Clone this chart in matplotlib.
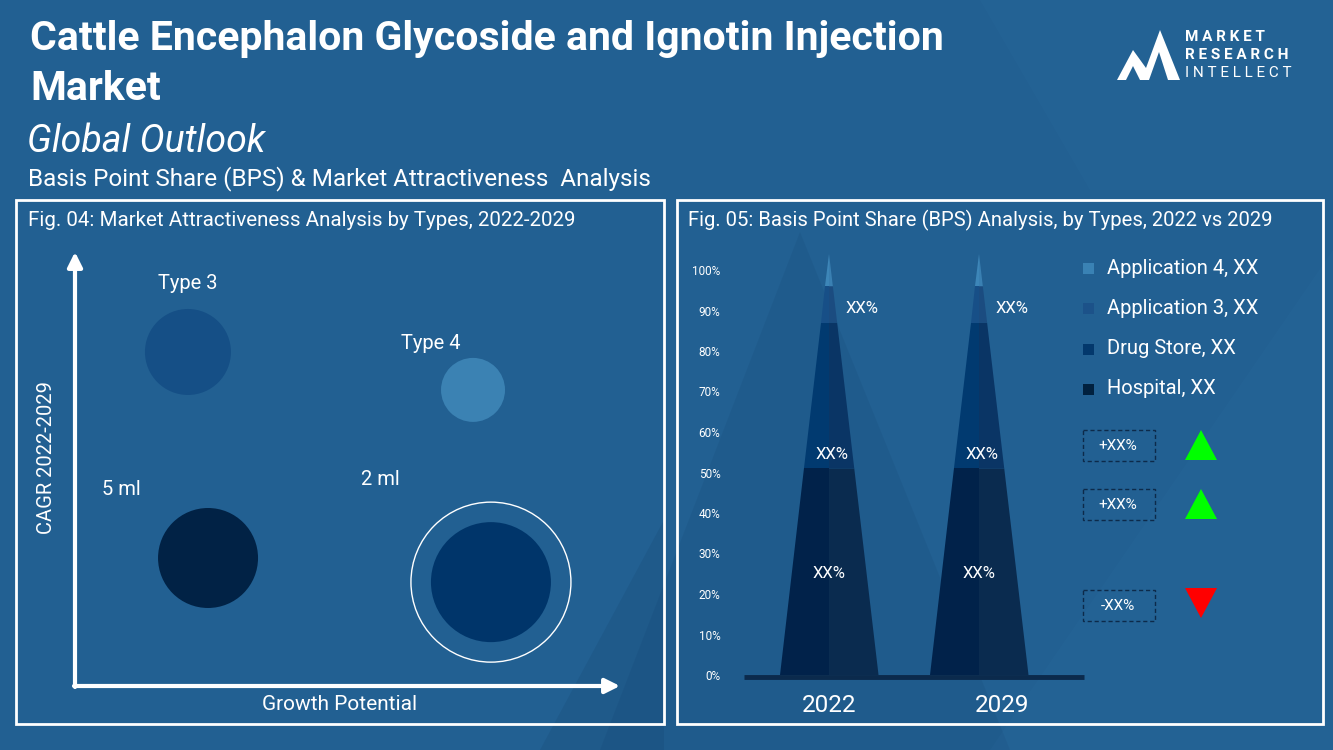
import matplotlib
matplotlib.use("Agg")
import matplotlib.pyplot as plt
from matplotlib.patches import Polygon, Rectangle
import numpy as np

plt.rcParams['font.family'] = ['Roboto', 'DejaVu Sans']

# ---- data ----
# Fig. 04 bubble chart (growth potential vs CAGR, 0-100 scale)
bubble_labels = ['Type 3', 'Type 4', '5 ml', '2 ml']
growth_potential = [20.8, 73.3, 24.5, 76.6]
cagr = [77.5, 68.7, 29.7, 24.1]
bubble_radius_px = [43, 32, 50, 60]
bubble_colors = ['#154f86', '#3b82b3', '#012245', '#00356a']
label_x = [20.8, 65.6, 8.5, 56.2]
label_y = [93.5, 79.4, 45.7, 47.8]

# Fig. 05 BPS pyramids
years = ['2022', '2029']
segments = ['Hospital', 'Drug Store', 'Application 3', 'Application 4']
hospital = [51, 51]
drug_store = [36, 36]
application_3 = [9, 9]
application_4 = [8, 8]
seg_labels = ['XX%', 'XX%', 'XX%', '']
yticks = list(range(0, 101, 10))
changes = ['+XX%', '+XX%', '-XX%']
change_up = [True, True, False]

BG = '#226092'
seg_left = ['#01224a', '#013a70', '#174f87', '#3d86b8']
seg_right = ['#0a2b4f', '#0a3565', '#1b4c80', '#3a80b2']
legend_colors = ['#3a82b4', '#1c5289', '#03386c', '#01213f']

W, H = 1333, 750
fig = plt.figure(figsize=(W / 100, H / 100), dpi=100, facecolor=BG)

# full-figure canvas in pixel coordinates for decoration
bg = fig.add_axes([0, 0, 1, 1], zorder=0)
bg.set_xlim(0, W)
bg.set_ylim(H, 0)
bg.axis('off')
bg.set_facecolor(BG)

# subtle background triangles
bg.add_patch(Polygon([(800, 232), (600, 750), (1010, 750)], closed=True,
                     facecolor='#0b2f55', alpha=0.09, lw=0))
bg.add_patch(Polygon([(1333, 250), (990, 750), (1333, 750)], closed=True,
                     facecolor='#3a7fb4', alpha=0.08, lw=0))
bg.add_patch(Polygon([(664, 520), (540, 750), (664, 750)], closed=True,
                     facecolor='#0b2f55', alpha=0.12, lw=0))
bg.add_patch(Polygon([(980, 0), (1333, 0), (1333, 190), (1090, 190)], closed=True,
                     facecolor='#3a7fb4', alpha=0.08, lw=0))

# headings
bg.text(30, 39, 'Cattle Encephalon Glycoside and Ignotin Injection', color='white',
        fontsize=29.5, fontweight='bold', va='center', ha='left')
bg.text(30, 89, 'Market', color='white', fontsize=29.5, fontweight='bold', va='center', ha='left')
bg.text(27, 142, 'Global Outlook', color='white', fontsize=27, style='italic',
        va='center', ha='left')
bg.text(28, 179, 'Basis Point Share (BPS) & Market Attractiveness  Analysis', color='white',
        fontsize=17.5, va='center', ha='left')

# logo
bg.add_patch(Polygon([(1117, 80), (1133, 50), (1146, 68), (1160, 30), (1180, 80),
                      (1168, 80), (1159, 52), (1149, 80), (1140, 80), (1133, 66), (1126, 80)],
                     closed=True, facecolor='white', lw=0))
bg.text(1185, 37, 'M A R K E T', color='white', fontsize=11, fontweight='bold', va='center')
bg.text(1185, 55, 'R E S E A R C H', color='white', fontsize=11, fontweight='bold', va='center')
bg.text(1185, 73, 'I N T E L L E C T', color='white', fontsize=11, va='center')

# panels
for x0, x1 in [(16, 664), (677, 1323)]:
    bg.add_patch(Rectangle((x0, 200), x1 - x0, 524, fill=False, ec='white', lw=2))
bg.text(28, 220, 'Fig. 04: Market Attractiveness Analysis by Types, 2022-2029',
        color='white', fontsize=14.8, va='center')
bg.text(688, 220, 'Fig. 05: Basis Point Share (BPS) Analysis, by Types, 2022 vs 2029',
        color='white', fontsize=14.6, va='center')

# bubble chart axis arrows
arrow = dict(arrowstyle='-|>', color='white', lw=3, mutation_scale=22, shrinkA=0, shrinkB=0)
bg.annotate('', xy=(75, 252), xytext=(75, 687), arrowprops=arrow)
bg.annotate('', xy=(620, 686), xytext=(74, 686), arrowprops=arrow)
bg.text(47, 457, 'CAGR 2022-2029', color='white', fontsize=14.5, rotation=90,
        va='center', ha='center')
bg.text(340, 705, 'Growth Potential', color='white', fontsize=15, va='center', ha='center')

# ---- Fig. 04 bubbles ----
ax1 = fig.add_axes([75 / W, 1 - 686 / H, 543 / W, 431 / H], zorder=2)
ax1.set_xlim(0, 100)
ax1.set_ylim(0, 100)
ax1.axis('off')
sizes = [(2 * r * 72 / 100) ** 2 for r in bubble_radius_px]
ax1.scatter(growth_potential, cagr, s=sizes, c=bubble_colors, linewidths=0)
ax1.scatter([growth_potential[3]], [cagr[3]], s=[(2 * 80 * 72 / 100) ** 2],
            facecolors='none', edgecolors='white', linewidths=1)
for lab, lx, ly in zip(bubble_labels, label_x, label_y):
    ax1.text(lx, ly, lab, color='white', fontsize=14.5, ha='center', va='center')

# ---- Fig. 05 pyramids ----
ax2 = fig.add_axes([744 / W, 1 - 675 / H, 340 / W, 405 / H], zorder=2)
ax2.set_xlim(-0.567, 1.7)
ax2.set_ylim(0, 100)
ax2.patch.set_alpha(0)
for s in ax2.spines.values():
    s.set_visible(False)
ax2.set_xticks([])
ax2.set_yticks(yticks)
ax2.set_yticklabels([f'{t}%' for t in yticks], color='white', fontsize=8.5)
ax2.tick_params(axis='y', length=0, pad=17)

stack = np.array([hospital, drug_store, application_3, application_4])
half_w = 0.33
for i, yr in enumerate(years):
    total = stack[:, i].sum()
    width = lambda h: half_w * (1 - h / total)
    bottom = 0
    for k in range(len(segments)):
        top = bottom + stack[k, i]
        c = i
        ax2.add_patch(Polygon([(c - width(bottom), bottom), (c, bottom), (c, top),
                               (c - width(top), top)], closed=True,
                              facecolor=seg_left[k], lw=0, clip_on=False))
        ax2.add_patch(Polygon([(c, bottom), (c + width(bottom), bottom),
                               (c + width(top), top), (c, top)], closed=True,
                              facecolor=seg_right[k], lw=0, clip_on=False))
        bottom = top
    ax2.text(i, 25.0, seg_labels[0], color='white', fontsize=12, ha='center', va='center')
    ax2.text(i + 0.02, 54.5, seg_labels[1], color='white', fontsize=12, ha='center', va='center')
    ax2.text(i + 0.22, 90.5, seg_labels[2], color='white', fontsize=12, ha='center', va='center')
ax2.plot([-0.567, 1.7], [-0.5, -0.5], color='#0b2a4c', lw=3.5, solid_capstyle='butt',
         clip_on=False)

bg.text(829, 705, years[0], color='white', fontsize=17.5, ha='center', va='center')
bg.text(1002, 705, years[1], color='white', fontsize=17.5, ha='center', va='center')

# legend
legend_names = ['Application 4, XX', 'Application 3, XX', 'Drug Store, XX', 'Hospital, XX']
for j, (name, col) in enumerate(zip(legend_names, legend_colors)):
    yy = 268 + j * 40.3
    bg.add_patch(Rectangle((1083, yy - 5), 11, 11, facecolor=col, lw=0))
    bg.text(1107, yy, name, color='white', fontsize=14.5, va='center')

for j, (txt, up) in enumerate(zip(changes, change_up)):
    y0 = [430, 489, 590][j]
    bg.add_patch(Rectangle((1083, y0), 72, 31, fill=False, ec='#0d2a4a', lw=1, ls=(0, (3, 2))))
    bg.text(1118, y0 + 16, txt, color='white', fontsize=11, ha='center', va='center')
    if up:
        tri = [(1185, y0 + 30), (1217, y0 + 30), (1201, y0)]
        col = '#00ff00'
    else:
        tri = [(1185, y0 - 2), (1217, y0 - 2), (1201, y0 + 28)]
        col = '#ff0000'
    bg.add_patch(Polygon(tri, closed=True, facecolor=col, lw=0))

fig.savefig('out.png', dpi=100, facecolor=BG)
